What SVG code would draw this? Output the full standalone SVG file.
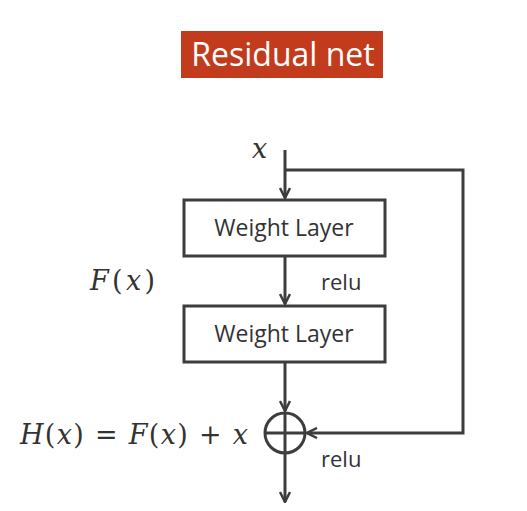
<svg xmlns="http://www.w3.org/2000/svg" width="527" height="511" viewBox="0 0 527 511">
<defs>
<style>
.ln{stroke:#3d3d3d;stroke-width:3;fill:none}
.box{fill:#fff;stroke:#3d3d3d;stroke-width:3}
.lbl{font-family:"Open Sans","Noto Sans",sans-serif;font-size:23px;fill:#333}
.rl{font-family:"Open Sans","Noto Sans",sans-serif;font-size:22px;fill:#333}
.math{font-family:"DejaVu Serif","Liberation Serif",serif;font-size:27px;fill:#333}
.it{font-style:italic}
</style>
<marker id="ah" viewBox="0 0 12 12" refX="11" refY="6" markerWidth="12" markerHeight="12" markerUnits="userSpaceOnUse" orient="auto">
<path d="M1,1 L11,6 L1,11" fill="none" stroke="#3d3d3d" stroke-width="2.5"/>
</marker>
</defs>
<rect width="527" height="511" fill="#fff"/>
<g id="title">
<rect x="181" y="31" width="202" height="47" fill="#C23B1C"/>
<text x="283" y="66" text-anchor="middle" font-family="'Open Sans','Noto Sans',sans-serif" font-size="32" fill="#fff">Residual net</text>
</g>
<g id="connectors">
<line class="ln" x1="285" y1="150" x2="285" y2="198" marker-end="url(#ah)"/>
<polyline class="ln" points="285,170 463,170 463,433 307,433" marker-end="url(#ah)"/>
<line class="ln" x1="285" y1="256" x2="285" y2="304" marker-end="url(#ah)"/>
<line class="ln" x1="285" y1="362" x2="285" y2="411" marker-end="url(#ah)"/>
<line class="ln" x1="285" y1="453" x2="285" y2="502" marker-end="url(#ah)"/>
</g>
<g id="layer1">
<rect class="box" x="184" y="200" width="201" height="56"/>
<text class="lbl" x="284" y="236" text-anchor="middle">Weight Layer</text>
</g>
<g id="layer2">
<rect class="box" x="184" y="306" width="201" height="56"/>
<text class="lbl" x="284" y="342" text-anchor="middle">Weight Layer</text>
</g>
<g id="sum">
<circle class="ln" cx="285" cy="433" r="20"/>
<line class="ln" x1="265" y1="433" x2="305" y2="433"/>
<line class="ln" x1="285" y1="413" x2="285" y2="453"/>
</g>
<g id="labels">
<text class="math it" x="252" y="158">x</text>
<text class="rl" x="321" y="290">relu</text>
<text class="rl" x="321" y="467">relu</text>
<text class="math" x="90" y="290" textLength="65" lengthAdjust="spacing"><tspan class="it">F</tspan>(<tspan class="it">x</tspan>)</text>
<text class="math" x="20" y="444" textLength="228" lengthAdjust="spacing"><tspan class="it">H</tspan>(<tspan class="it">x</tspan>) = <tspan class="it">F</tspan>(<tspan class="it">x</tspan>) + <tspan class="it">x</tspan></text>
</g>
</svg>
